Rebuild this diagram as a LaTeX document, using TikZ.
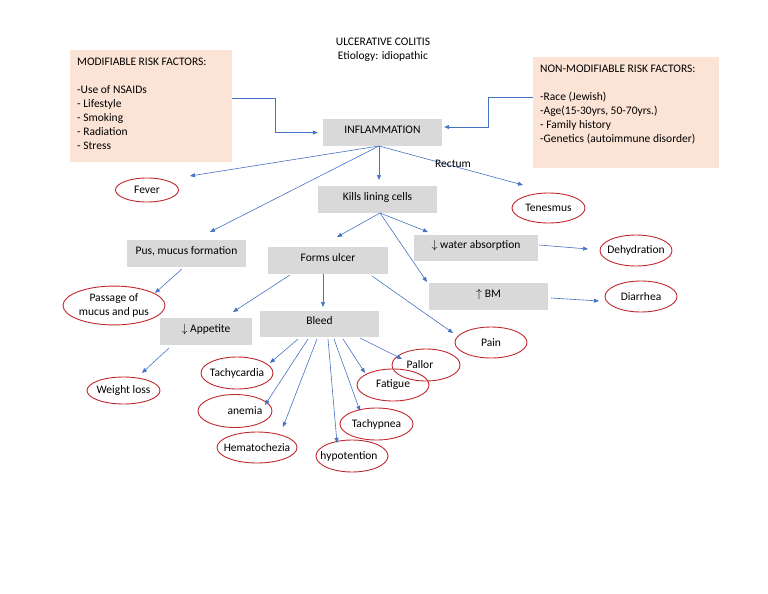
\documentclass[tikz,border=0pt]{standalone}
\usepackage{fontspec}
\setmainfont{Carlito}
\usetikzlibrary{arrows.meta,shapes.geometric}
\definecolor{boxgray}{HTML}{D9D9D9}
\definecolor{peach}{HTML}{FBE3D5}
\definecolor{lineblue}{HTML}{4472C4}
\definecolor{ovalred}{HTML}{C0282D}
\newcommand{\ovaltext}[1]{\makebox[0pt]{#1}}
\begin{document}
\begin{tikzpicture}[x=1pt,y=-1pt,
  every node/.style={font=\fontsize{11.5}{14}\selectfont},
  graybox/.style={fill=boxgray, inner sep=0pt, text height=8.5pt, text depth=7pt},
  riskbox/.style={fill=peach, inner sep=0pt, anchor=north west},
  risktext/.style={inner sep=0pt, align=left, anchor=north west},
  oval/.style={ellipse, draw=ovalred, line width=0.9pt, inner sep=0pt},
  conn/.style={draw=lineblue, line width=0.6pt, -{Triangle[length=5pt,width=4pt]}},
  plain/.style={inner sep=0pt}
]
\useasboundingbox (0,0) rectangle (768,594);

% title
\node[plain] (title) at (383,42) {ULCERATIVE COLITIS};
\node[plain] (etiol) at (383,56) {Etiology: idiopathic};

% risk factor boxes
\node[riskbox, minimum width=162pt, minimum height=112pt] (modbox) at (70,50) {};
\node[risktext] (modtext) at (77,58.3) {MODIFIABLE RISK FACTORS:\\[14pt]-Use of NSAIDs\\- Lifestyle\\- Smoking\\- Radiation\\- Stress};
\node[riskbox, minimum width=186pt, minimum height=111pt] (nmbox) at (533,57) {};
\node[risktext] (nmtext) at (540,65.3) {NON-MODIFIABLE RISK FACTORS:\\[14pt]-Race (Jewish)\\-Age(15-30yrs, 50-70yrs.)\\- Family history\\-Genetics (autoimmune disorder)};

% gray boxes
\node[graybox, minimum width=119pt, minimum height=27pt] (infl) at (382.5,132.5) {INFLAMMATION};
\node[graybox, minimum width=119pt, minimum height=27pt] (kills) at (377.5,199.5) {Kills lining cells};
\node[graybox, minimum width=119pt, minimum height=27pt] (pus) at (186.5,253.5) {Pus, mucus formation};
\node[graybox, minimum width=120pt, minimum height=27pt] (ulcer) at (328,260.5) {Forms ulcer};
\node[graybox, minimum width=92pt, minimum height=27pt] (appetite) at (206,331.5) {$\downarrow$ Appetite};
\node[graybox, minimum width=119pt, minimum height=26pt] (bleed) at (319.5,324) {Bleed};
\node[graybox, minimum width=124pt, minimum height=26pt] (water) at (476,248) {$\downarrow$ water absorption};
\node[graybox, minimum width=119pt, minimum height=27pt] (bm) at (488.5,296.5) {$\uparrow$ BM};

% ovals
\node[oval, minimum width=63pt, minimum height=24pt] (fever) at (147,190) {\ovaltext{Fever}};
\node[oval, minimum width=73pt, minimum height=30pt] (tenesmus) at (548.5,208) {\ovaltext{Tenesmus}};
\node[oval, minimum width=102pt, minimum height=35pt] (passage) at (114,305.5) {\ovaltext{\begin{tabular}{@{}c@{}}Passage of\\[-0.5pt]mucus and pus\end{tabular}}};
\node[oval, minimum width=73pt, minimum height=27pt] (weight) at (123.5,390.5) {\ovaltext{Weight loss}};
\node[oval, minimum width=72pt, minimum height=32pt] (tachyc) at (237,373) {\ovaltext{Tachycardia}};
\node[oval, minimum width=74pt, minimum height=33pt] (anemia) at (235,411) {\ovaltext{\hspace*{20pt}anemia}};
\node[oval, minimum width=80pt, minimum height=31pt] (hemat) at (257,447.5) {\ovaltext{Hematochezia}};
\node[oval, minimum width=72pt, minimum height=32pt] (hypot) at (352,456) {\ovaltext{hypotention\hspace*{6pt}}};
\node[oval, minimum width=73pt, minimum height=32pt] (tachyp) at (376.5,424) {\ovaltext{Tachypnea}};
\node[oval, minimum width=72pt, minimum height=32pt] (fatigue) at (393,385) {\ovaltext{Fatigue}};
\node[oval, minimum width=68pt, minimum height=32pt] (pallor) at (426,365) {\ovaltext{Pallor\hspace*{12pt}}};
\node[oval, minimum width=72pt, minimum height=31pt] (pain) at (491,342.5) {\ovaltext{Pain}};
\node[oval, minimum width=72pt, minimum height=31pt] (dehyd) at (636,250.5) {\ovaltext{Dehydration}};
\node[oval, minimum width=72pt, minimum height=31pt] (diarrhea) at (641,296.5) {\ovaltext{Diarrhea}};

% connector points
\coordinate (modout) at (232,98);
\coordinate (modknee) at (275,98);
\coordinate (nmout) at (533,97);
\coordinate (nmknee) at (488,97);
\coordinate (inflhub) at (379,146);
\coordinate (feverin) at (190,176);
\coordinate (killsin) at (379,180);
\coordinate (pusin) at (210,232);
\coordinate (tenesin) at (523,185);
\coordinate (killshub) at (380,213);
\coordinate (ulcerin) at (337,237);
\coordinate (waterin) at (428,232);
\coordinate (bmin) at (427,282);
\coordinate (pusout) at (182,269);
\coordinate (passin) at (155,293);
\coordinate (ulcA) at (290,275);
\coordinate (appin) at (233,312);
\coordinate (ulcB) at (323,274);
\coordinate (bleedin) at (323,307);
\coordinate (ulcC) at (372,276);
\coordinate (painin) at (453,333);
\coordinate (appout) at (169,348);
\coordinate (weightin) at (142,373);
\coordinate (waterout) at (539,245);
\coordinate (dehydin) at (588,249);
\coordinate (bmout) at (551,298);
\coordinate (diarin) at (599,301);
\coordinate (blA) at (298,339);
\coordinate (tachycin) at (270,363);
\coordinate (blB) at (308,339);
\coordinate (anemiain) at (265,405);
\coordinate (blC) at (317,339);
\coordinate (hematin) at (283,427);
\coordinate (blD) at (328,339);
\coordinate (hypotin) at (337,443);
\coordinate (blE) at (334,339);
\coordinate (tachypin) at (360,411);
\coordinate (blF) at (343,339);
\coordinate (fatiguein) at (365,373);
\coordinate (blG) at (360,338);
\coordinate (pallorin) at (402,359);

% connectors
\draw[conn] (modout) -- (modknee) |- ([xshift=-5pt]infl.west);
\draw[conn] (nmout) -- (nmknee) |- ([xshift=2pt,yshift=5.5pt]infl.east);
\draw[conn] (inflhub) -- (feverin);
\draw[conn] (inflhub) -- (killsin);
\draw[conn] (inflhub) -- (pusin);
\draw[conn] (inflhub) -- (tenesin);
\node[plain] (rectum) at (453,164) {Rectum};
\draw[conn] (killshub) -- (ulcerin);
\draw[conn] (killshub) -- (waterin);
\draw[conn] (killshub) -- (bmin);
\draw[conn] (pusout) -- (passin);
\draw[conn] (ulcA) -- (appin);
\draw[conn] (ulcB) -- (bleedin);
\draw[conn] (ulcC) -- (painin);
\draw[conn] (appout) -- (weightin);
\draw[conn] (waterout) -- (dehydin);
\draw[conn] (bmout) -- (diarin);
\draw[conn] (blA) -- (tachycin);
\draw[conn] (blB) -- (anemiain);
\draw[conn] (blC) -- (hematin);
\draw[conn] (blD) -- (hypotin);
\draw[conn] (blE) -- (tachypin);
\draw[conn] (blF) -- (fatiguein);
\draw[conn] (blG) -- (pallorin);
\end{tikzpicture}
\end{document}
